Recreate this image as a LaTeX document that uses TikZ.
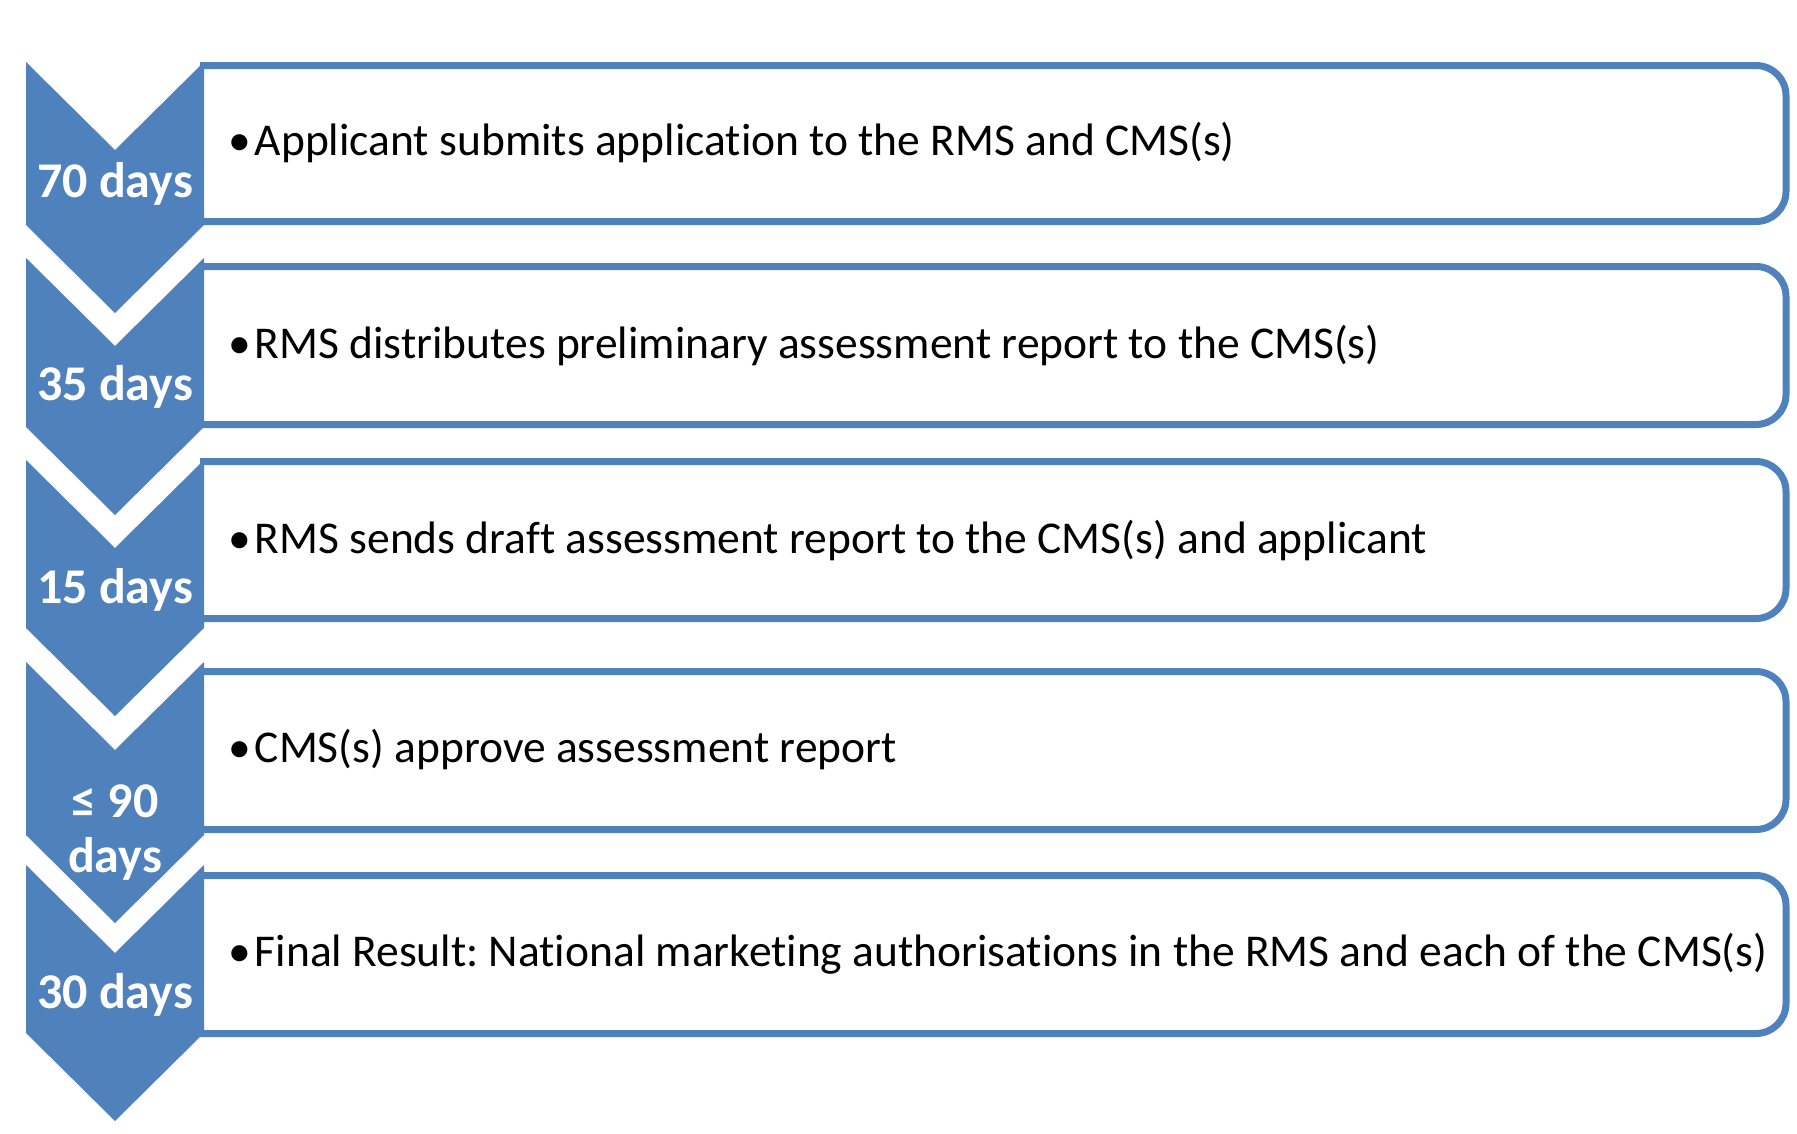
\documentclass[tikz,border=0pt]{standalone}
\usepackage{fontspec}
\setmainfont{Carlito}[Ligatures=NoCommon]
\usepackage{tikz}
\definecolor{stepblue}{HTML}{4F81BD}
\newcommand{\chevron}[2]{\fill[chev] (26,#1) -- (115,#1+88) -- (204,#1) -- (204,#2) -- (115,#2+88) -- (26,#2) -- cycle;}
\newcommand{\listbox}[2]{\draw[listbox] (200,#1) -- (1786,#1) -- (1786,#2) -- (200,#2);}
\newcommand{\bul}{•\kern4pt}
\frenchspacing

\begin{document}
\begin{tikzpicture}[x=1pt,y=-1pt,
    chev/.style={fill=stepblue},
    listbox/.style={draw=stepblue,line width=7pt,rounded corners=30pt},
    days/.style={text=white,font=\fontsize{50}{55}\bfseries,anchor=base,inner sep=0pt},
    item/.style={font=\fontsize{45.5}{55}\selectfont,anchor=base west,inner sep=0pt}]
    \fill[white] (0,0) rectangle (1797,1133);
    \useasboundingbox (0,0) rectangle (1797,1133);
    \listbox{65.5}{221.5}
    \listbox{266.5}{424.5}
    \listbox{461.5}{618.5}
    \listbox{671.5}{829.5}
    \listbox{875.5}{1033.5}
    \chevron{62}{225}
    \chevron{258}{427}
    \chevron{460}{628}
    \chevron{662}{835}
    \chevron{865}{1033}
    \node[item] (s1) at (228,155) {\bul Applicant submits application to the RMS and CMS(s)};
    \node[item] (s2) at (228,358) {\bul RMS distributes preliminary assessment report to the CMS(s)};
    \node[item] (s3) at (228,553) {\bul RMS sends draft assessment report to the CMS(s) and applicant};
    \node[item] (s4) at (228,762) {\bul CMS(s) approve assessment report};
    \node[item] (s5) at (228,966) {\bul Final Result: National marketing authorisations in the RMS and each of the CMS(s)};
    \node[days] (d1) at (115,197) {70 days};
    \node[days] (d2) at (115,400) {35 days};
    \node[days] (d3) at (115,603) {15 days};
    \node[days,align=center] (d4) at (115,872) {≤ 90\\days};
    \node[days] (d5) at (115,1008) {30 days};
\end{tikzpicture}
\end{document}
